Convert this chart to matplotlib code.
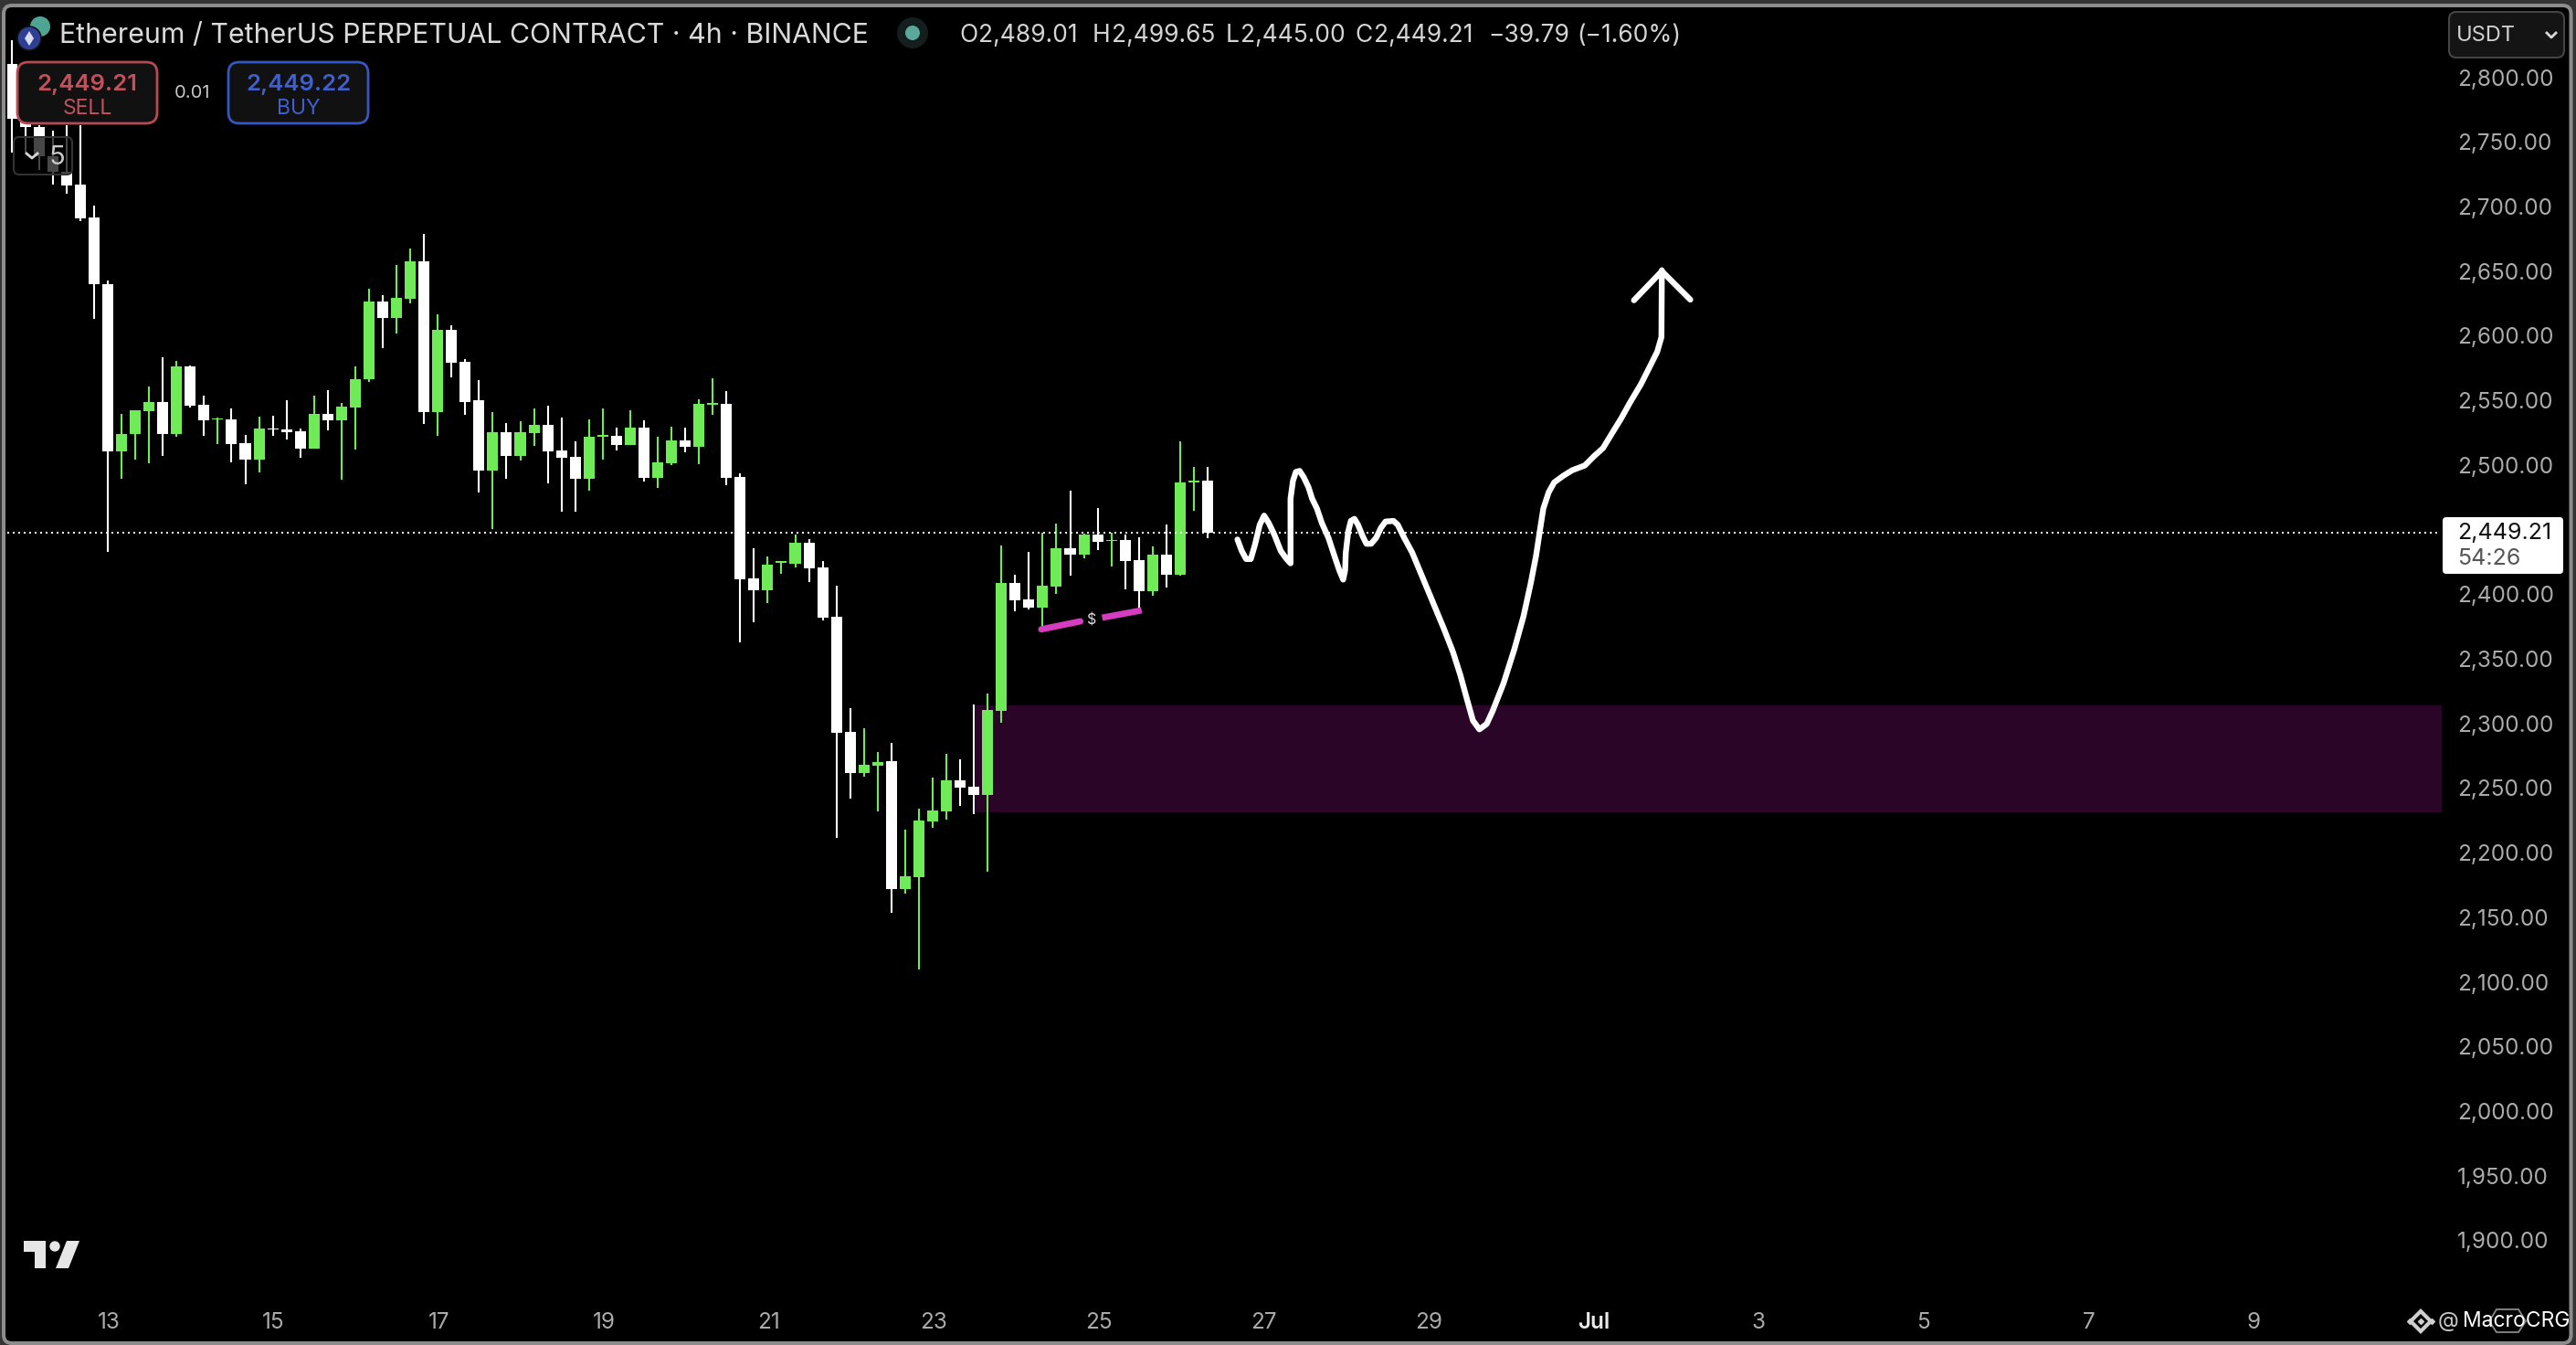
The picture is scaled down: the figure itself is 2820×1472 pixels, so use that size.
"""ETHUSDT perp 4h chart with a hand drawn path and a demand zone."""
import matplotlib
matplotlib.use('Agg')
import matplotlib.pyplot as plt
from matplotlib.patches import Circle, FancyBboxPatch, Polygon, Rectangle
from matplotlib.transforms import ScaledTranslation

plt.rcParams['font.family'] = ['Inter', 'DejaVu Sans']

W, H = 2820, 1472
GREEN = '#6EEB57'
WHITE = '#FFFFFF'

# candles, one every 4h, index 7 is 13 Jun 00:00
opens = [2811.6, 2780, 2763, 2740, 2728.4, 2718.3, 2692.9, 2641.3, 2512, 2525, 2543.2,
         2550.1, 2525.6, 2577.8, 2547.8, 2536.6, 2536.6, 2518.3, 2505.6, 2529.9, 2528.7,
         2527.6, 2514.3, 2540.9, 2535.7, 2546, 2567.4, 2627.8, 2615.3, 2630.2, 2658.9,
         2542.5, 2605.9, 2581.2, 2551.5, 2497, 2526.5, 2508.3, 2526, 2532.4, 2512.3,
         2507.6, 2490.7, 2523.5, 2523.9, 2516.8, 2530, 2491.4, 2502.7, 2520.1, 2515.4,
         2548.2, 2548.6, 2492.1, 2413.5, 2404.4, 2425.5, 2424.9, 2441.3, 2422, 2383.9,
         2294.8, 2263, 2269, 2272.1, 2173.3, 2182.5, 2225.4, 2233.3, 2257.3, 2252.5,
         2245.9, 2311.2, 2410, 2397.3, 2391.2, 2407.2, 2436.9, 2432, 2447.5, 2442.8,
         2443.3, 2427.7, 2403.9, 2432, 2416.4, 2488.1, 2489.01]
highs = [2830, 2790, 2764.5, 2760.2, 2764.5, 2764.5, 2701.9, 2644.2, 2540.9, 2543.7, 2561.9,
         2584.7, 2581.8, 2578.4, 2554.7, 2538, 2545.2, 2524.7, 2538.5, 2539.4, 2551.8,
         2529.3, 2554.7, 2559.6, 2549.5, 2577.8, 2637.5, 2632.5, 2656.1, 2668.8, 2680.1,
         2617.9, 2609.4, 2583.5, 2567, 2542.3, 2533.6, 2535.2, 2544.9, 2547.2, 2537.8,
         2519.4, 2536.4, 2545.3, 2530, 2543.5, 2535.7, 2522.9, 2531.2, 2530, 2551.9,
         2568.2, 2558.3, 2494.6, 2436.9, 2430.9, 2427.4, 2447.3, 2444.1, 2427.1, 2407.8,
         2313.1, 2297.4, 2279.1, 2286.3, 2219.1, 2235.8, 2259.5, 2277.8, 2273.7, 2316.3,
         2324.8, 2439.4, 2416.2, 2433.9, 2449.2, 2455.8, 2481.2, 2448.2, 2468, 2449.2,
         2447.3, 2445.2, 2438.1, 2455.3, 2519.4, 2499.8, 2499.65]
lows = [2743, 2743, 2729.9, 2718.3, 2711.1, 2690.3, 2614.4, 2434.1, 2490.9, 2505.6, 2502.8,
        2508.5, 2523.5, 2546, 2524.1, 2517.8, 2503.3, 2486.6, 2495.5, 2524.1, 2521.2,
        2507.1, 2514.3, 2528.4, 2490.3, 2513.4, 2565.4, 2591.8, 2603.1, 2626.6, 2533.1,
        2524.1, 2569.4, 2540.2, 2480.1, 2452, 2490.7, 2504.8, 2516.1, 2487.1, 2465.2,
        2465.2, 2481.7, 2505.7, 2512.8, 2516.8, 2488.8, 2483.8, 2501.5, 2511.2, 2502.2,
        2540.2, 2485.9, 2364.3, 2379.7, 2394.6, 2417, 2422, 2410.7, 2381, 2212.8,
        2243.1, 2260.4, 2233.3, 2154.7, 2169.5, 2111.1, 2220.7, 2227, 2237.7, 2231.1,
        2186.9, 2302.1, 2388.1, 2389.5, 2375.2, 2401.6, 2415.7, 2429.1, 2435.5, 2422.8,
        2405.1, 2388.8, 2400.1, 2406.5, 2415.7, 2465.9, 2445]
closes = [2769.4, 2763, 2740, 2728.4, 2717.8, 2692.4, 2641, 2512, 2525, 2543.7, 2550.1,
          2525.6, 2577.8, 2547.2, 2535.7, 2537.4, 2517.8, 2505.6, 2529.3, 2529, 2527,
          2514.3, 2540.9, 2535.7, 2546.6, 2567.4, 2628, 2615.3, 2630.7, 2658.9, 2542.5,
          2605.9, 2580.7, 2550.1, 2497, 2526.5, 2508.3, 2526.5, 2532.4, 2511.9, 2506.9,
          2490.7, 2523.2, 2524.4, 2516.8, 2530, 2491.4, 2503.4, 2520.1, 2515.4, 2548.4,
          2549.1, 2491.4, 2412.9, 2404.4, 2424.3, 2426.8, 2441.3, 2421.4, 2383.2, 2294.2,
          2263, 2269.3, 2271.8, 2173.3, 2182.8, 2226.3, 2233.9, 2257.3, 2251.6, 2245.9,
          2311.9, 2410.1, 2396.9, 2391, 2407.7, 2436.9, 2432, 2447.5, 2442.1, 2443.5,
          2427.3, 2403.9, 2432, 2416.4, 2487.6, 2489, 2449.21]

last_price = 2449.21
price_ticks = [2800, 2750, 2700, 2650, 2600, 2550, 2500, 2450, 2400, 2350, 2300, 2250,
               2200, 2150, 2100, 2050, 2000, 1950, 1900]
date_ticks = [7, 19, 31, 43, 55, 67, 79, 91, 103, 115, 127, 139, 151, 163]
date_labels = ['13', '15', '17', '19', '21', '23', '25', '27', '29', 'Jul', '3', '5', '7', '9']

# demand zone
zone_x = 70.1
zone_top = 2315.3
zone_bottom = 2232.6

# pink equal lows line with the $ gap
liq_x1 = [74.9, 77.74]
liq_y1 = [2374.2, 2380.4]
liq_x2 = [79.33, 82.2]
liq_y2 = [2383.2, 2388.9]

# hand drawn path
path_x = [89.17, 89.48, 89.80, 90.14, 90.45, 90.79, 91.11, 91.45, 91.85, 92.32, 92.69, 93.03,
          93.03, 93.21, 93.42, 93.69, 94.0, 94.34, 94.60, 94.95, 95.31, 95.79, 96.18, 96.58,
          96.86, 97.0, 97.05, 97.23, 97.42, 97.68, 97.94, 98.28, 98.55, 98.89, 99.26, 99.60,
          99.94, 100.52, 100.83, 101.30, 101.88, 102.62, 103.41, 104.2, 104.85, 105.38, 105.90,
          106.30, 106.77, 107.30, 107.74, 108.53, 109.32, 109.98, 110.50, 110.89, 111.16,
          111.42, 111.81, 112.21, 112.87, 113.52, 114.44, 115.10, 115.76, 116.41, 117.07,
          117.73, 118.51, 119.17, 119.70, 120.01, 120.04]
path_y = [2443.7, 2434.9, 2428.6, 2428.6, 2439.9, 2455.1, 2462.2, 2456.4, 2447.5, 2434.9, 2429.3,
          2425.3, 2475.3, 2489.2, 2496, 2496.8, 2491.7, 2484.1, 2475.3, 2467.7, 2456.4, 2445,
          2432.4, 2419.8, 2412.7, 2419.8, 2433.6, 2450, 2458.1, 2459.7, 2455.1, 2446.2, 2440.4,
          2440.4, 2445, 2452.6, 2457.6, 2458.1, 2455.1, 2445, 2433.6, 2414.7, 2394.5, 2374.3,
          2356.6, 2338.9, 2318.7, 2303.6, 2296.8, 2301, 2311.2, 2332.6, 2359.1, 2384.4, 2409.7,
          2431.1, 2450, 2467.7, 2480.3, 2487.9, 2493, 2497.3, 2501, 2508.1, 2514.4, 2525.8,
          2537.2, 2549.8, 2563.7, 2577.6, 2588.9, 2600.3, 2652]
head_x = [118.01, 120.04, 122.11]
head_y = [2628.8, 2651.3, 2629.3]


def px_axes(fig, zorder):
    a = fig.add_axes([0, 0, 1, 1], zorder=zorder)
    a.set_xlim(0, W)
    a.set_ylim(H, 0)
    a.axis('off')
    a.patch.set_alpha(0)
    return a


def draw_chrome(ov):
    # logo
    ov.add_patch(Circle((44, 29), 11, fc='#4FA593', ec='none'))
    ov.add_patch(Circle((32, 42), 13, fc='#2F3F96', ec='#151515', lw=1.2))
    ov.add_patch(Polygon([(32, 34), (37, 42), (32, 50), (27, 42)], fc='#D8DCEF', ec='none'))
    ov.text(65, 39, 'Ethereum / TetherUS PERPETUAL CONTRACT · 4h · BINANCE',
            color='#DADADA', fontsize=21.85, va='center', ha='left')

    # market status dot
    ov.add_patch(Circle((999, 36), 17, fc='#141E1E', ec='none'))
    ov.add_patch(Circle((999, 36), 8, fc='#5AA899', ec='none'))

    # OHLC legend
    legend = [(1050, 'O'), (1071, '2,489.01'), (1196, 'H'), (1217, '2,499.65'),
              (1342, 'L'), (1358, '2,445.00'), (1483, 'C'), (1504, '2,449.21'),
              (1629, '−39.79'), (1726, '(−1.60%)')]
    for x, s in legend:
        ov.text(x, 39, s, color='#D4D4D4', fontsize=19, va='center', ha='left')

    # order buttons
    for x0, x1, ec, tc, price, side in [(19, 172, '#B84A55', '#C4505B', '2,449.21', 'SELL'),
                                        (250, 403, '#3557C4', '#3F5FCF', '2,449.22', 'BUY')]:
        ov.add_patch(FancyBboxPatch((x0 + 10, 78), x1 - x0 - 20, 47, boxstyle='round,pad=10,rounding_size=12',
                                    fc='#111111', ec=ec, lw=2))
        ov.text((x0 + x1) / 2, 92, price, color=tc, fontsize=18.5, fontweight='semibold', ha='center', va='center')
        ov.text((x0 + x1) / 2, 119, side, color=tc, fontsize=16.5, ha='center', va='center')
    ov.text(210, 102, '0.01', color='#C8C8C8', fontsize=14.5, ha='center', va='center')

    # collapse indicators button
    ov.add_patch(FancyBboxPatch((21, 156), 52, 29, boxstyle='round,pad=6,rounding_size=6',
                                fc=(0, 0, 0, 0.72), ec='#333333', lw=1.5))
    ov.plot([29, 35, 41], [168, 173, 168], color='#D8D8D8', lw=2)
    ov.text(62, 172, '5', color='#C8C8C8', fontsize=21, ha='center', va='center')

    # currency dropdown
    ov.add_patch(FancyBboxPatch((2689, 21), 110, 34, boxstyle='round,pad=8,rounding_size=8',
                                fc='#141414', ec='#444444', lw=1.5))
    ov.text(2689, 39, 'USDT', color='#D0D0D0', fontsize=17, ha='left', va='center')
    ov.plot([2788, 2793, 2798], [36, 41, 36], color='#D8D8D8', lw=2)

    # last price label
    ov.add_patch(FancyBboxPatch((2678, 570), 124, 54, boxstyle='round,pad=4,rounding_size=4',
                                fc='white', ec='none'))
    ov.text(2690, 583, '2,449.21', color='#111111', fontsize=18, ha='left', va='center')
    ov.text(2690, 611, '54:26', color='#555555', fontsize=18, ha='left', va='center')

    # tradingview mark
    mark = '#E6E6E6'
    ov.add_patch(Polygon([(26, 1358), (50, 1358), (50, 1388), (38, 1388), (38, 1370), (26, 1370)], fc=mark, ec='none'))
    ov.add_patch(Circle((60, 1364), 5.7, fc=mark, ec='none'))
    ov.add_patch(Polygon([(73, 1358), (87, 1358), (75, 1388), (61, 1388)], fc=mark, ec='none'))

    # watermark
    ov.add_patch(Polygon([(2733, 1433), (2757, 1433), (2765, 1446), (2757, 1458), (2733, 1458), (2725, 1446)],
                         fc='none', ec='#8A8A8A', lw=1.3))
    ov.plot([2650], [1446], marker='D', ms=11, mfc='none', mec='#CFCFCF', mew=3)
    ov.plot([2650], [1446], marker='D', ms=3, color='#CFCFCF')
    ov.plot([2638, 2662], [1446, 1446], ls='none', marker='D', ms=3, color='#CFCFCF')
    ov.text(2680, 1446, '@', color='#C8C8C8', fontsize=17, ha='center', va='center')
    ov.text(2696, 1446, 'MacroCRG', color='white', fontsize=16.5, ha='left', va='center')


def main():
    fig = plt.figure(figsize=(W / 100, H / 100), dpi=100, facecolor='#343434')

    base = px_axes(fig, 0)
    base.add_patch(FancyBboxPatch((4, 6), 2810.5, 1464, boxstyle='round,pad=0,rounding_size=9',
                                  fc='black', ec='#8C8C8C', lw=2.9))

    # chart area in pixels: x 8..2675, y 8..1422
    ax = fig.add_axes([8 / W, 1 - 1422 / H, 2667 / W, 1414 / H], zorder=1)
    ax.patch.set_alpha(0)
    ax.set_xlim(-0.31, 176.9)
    ax.set_ylim(1855.8, 2855.5)
    for s in ax.spines.values():
        s.set_visible(False)

    ax.add_patch(Rectangle((zone_x, zone_bottom), 176.75 - zone_x, zone_top - zone_bottom,
                           fc='#2B0528', ec='none', zorder=1))

    xs = list(range(len(opens)))
    colors = [GREEN if c >= o else WHITE for o, c in zip(opens, closes)]
    ax.vlines(xs, lows, highs, colors=colors, lw=1.5, zorder=2)
    ax.bar(xs, [c - o for o, c in zip(opens, closes)], bottom=opens, width=0.8,
           color=colors, lw=0, zorder=3)

    ax.plot([-0.3, 176.5], [last_price, last_price], color='white', lw=1.44, ls=(0, (1, 2)), zorder=4)

    ax.plot(liq_x1, liq_y1, color='#D63CC0', lw=5, solid_capstyle='round', zorder=5)
    ax.plot(liq_x2, liq_y2, color='#D63CC0', lw=5, solid_capstyle='butt', zorder=5)
    ax.text(78.55, 2381.3, '$', color='#E0E0E0', fontsize=11.5, ha='center', va='center', zorder=5)

    ax.plot(path_x, path_y, color='white', lw=4.6, solid_joinstyle='round', solid_capstyle='round', zorder=6)
    ax.plot(head_x, head_y, color='white', lw=4.6, solid_joinstyle='miter', solid_capstyle='round', zorder=6)

    ax.yaxis.tick_right()
    ax.set_yticks(price_ticks)
    ax.set_yticklabels([f'{p:,.2f}' for p in price_ticks])
    ax.set_xticks(date_ticks)
    ax.set_xticklabels(date_labels)
    ax.tick_params(axis='y', length=0, pad=11, labelsize=17.5, labelcolor='#ABABAB')
    ax.tick_params(axis='x', length=0, pad=10, labelsize=17.5, labelcolor='#ABABAB')
    # labels sit 2px above the level, dates 1px right of the candle
    nudge_y = ScaledTranslation(0, 2 / 100, fig.dpi_scale_trans)
    nudge_x = ScaledTranslation(1 / 100, 0, fig.dpi_scale_trans)
    for lab in ax.get_yticklabels():
        lab.set_transform(lab.get_transform() + nudge_y)
    for lab in ax.get_xticklabels():
        lab.set_transform(lab.get_transform() + nudge_x)
    ax.get_xticklabels()[date_labels.index('Jul')].set_color('#E8E8E8')
    ax.get_xticklabels()[date_labels.index('Jul')].set_fontweight('semibold')

    ov = px_axes(fig, 2)
    draw_chrome(ov)

    fig.savefig('out.png', dpi=100, facecolor=fig.get_facecolor())
    plt.close(fig)


if __name__ == '__main__':
    main()
